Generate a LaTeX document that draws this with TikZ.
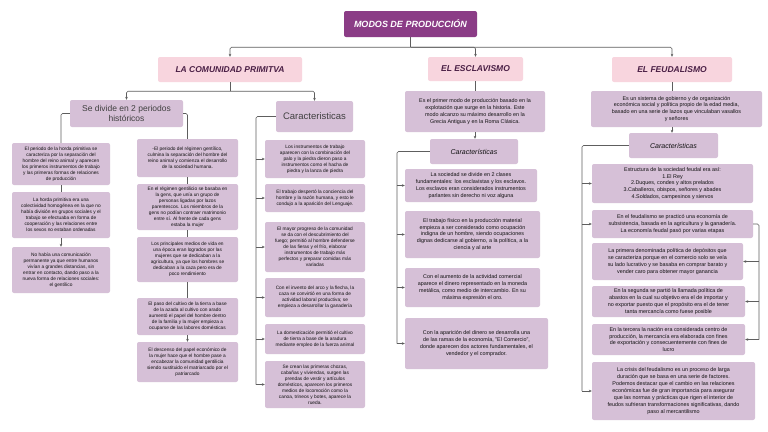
\documentclass[tikz,border=0pt]{standalone}
\usepackage{fontspec}
\setmainfont{Liberation Sans}
\usetikzlibrary{arrows.meta}
\definecolor{mauve}{HTML}{D6C0D7}
\definecolor{pinkb}{HTML}{F8D5DE}
\definecolor{titlep}{HTML}{8B3C86}
\definecolor{lineg}{HTML}{5E5E5E}
\definecolor{headtxt}{HTML}{4A1F45}
\definecolor{bodytxt}{HTML}{101010}
\newcommand\boxat[7]{\node[#6, minimum width={(#4-#2)*1pt}, minimum height={(#5-#3)*1pt}] (#1) at ({(#2+#4)/2},{(#3+#5)/2}) {#7};}
\tikzset{
 mbox/.style={fill=mauve, rounded corners=2pt, inner sep=1pt, align=center, text=bodytxt, font=\fontsize{4.8}{6}\selectfont},
 mboxb/.style={mbox, font=\fontsize{5.4}{6.9}\selectfont},
 pbox/.style={fill=pinkb, rounded corners=2pt, inner sep=1pt, font=\fontsize{8.5}{10}\selectfont\bfseries\itshape, text=headtxt},
 tbox/.style={fill=titlep, rounded corners=2pt, inner sep=1pt, font=\fontsize{9}{11}\selectfont\bfseries\itshape, text=white},
 conn/.style={draw=lineg, line width=0.6pt, rounded corners=1.5pt},
 arr/.style={conn, -{Stealth[length=3pt,width=2.6pt]}},
}
\begin{document}
\begin{tikzpicture}[x=1pt,y=-1pt]
\fill[white] (0,0) rectangle (768,431);
\useasboundingbox (0,0) rectangle (768,431);

% title and level 1
\boxat{title}{344}{11}{477}{37}{tbox}{MODOS DE PRODUCCIÓN}
\boxat{lcom}{158}{57}{302}{82}{pbox}{LA COMUNIDAD PRIMITVA}
\boxat{lesc}{428}{57}{523}{81}{pbox}{EL ESCLAVISMO}
\boxat{lfeu}{612}{57}{732}{82}{pbox}{EL FEUDALISMO}

% level 2 comunidad
\boxat{sediv}{70}{100}{183}{127}{mbox, font=\fontsize{8.5}{10.5}\selectfont, text=black!75}{Se divide en 2 periodos\\históricos}
\boxat{car1}{276}{101}{353}{132}{mbox, font=\fontsize{9.5}{11}\selectfont, text=black!75}{Caracteristicas}

% column 1
\boxat{ca}{12}{143}{110}{185}{mbox}{El periodo de la horda primitiva se\\caracteriza por la separación del\\hombre del reino animal y aparecen\\los primeros instrumentos de trabajo\\y las primeras formas de relaciones\\de producción}
\boxat{cb}{12}{192}{110}{238}{mbox}{La horda primitiva era una\\colectividad homogénea en la que no\\había división en grupos sociales y el\\trabajo se efectuaba en forma de\\cooperación y las relaciones entre\\los sexos no estaban ordenadas}
\boxat{cc}{12}{247}{110}{293}{mbox}{No había una comunicación\\permanente ya que entre humanos\\vivían a grandes distancias, sin\\entrar en contacto, dando paso a la\\nueva forma de relaciones sociales:\\el gentílico}

% column 2
\boxat{da}{137}{139}{238}{177}{mbox}{-El periodo del régimen gentílico,\\culmina la separación del hombre del\\reino animal y comienza el desarrollo\\de la sociedad humana.}
\boxat{db}{137}{184}{238}{230}{mbox}{En el régimen gentilicio se basaba en\\la gens, que unía un grupo de\\personas ligadas por lazos\\parentescos. Los miembros de la\\gens no podían contraer matrimonio\\entre sí. Al frente de cada gens\\estaba la mujer}
\boxat{dc}{137}{237}{238}{282}{mbox}{Los principales medios de vida en\\una época eran logrados por las\\mujeres que se dedicaban a la\\agricultura, ya que los hombres se\\dedicaban a la caza pero era de\\poco rendimiento}
\boxat{dd}{137}{298}{238}{335}{mbox}{El paso del cultivo de la tierra a base\\de la azada al cultivo con arado\\aumentó el papel del hombre dentro\\de la familia y la mujer empieza a\\ocuparse de las labores domésticas}
\boxat{de}{137}{342}{238}{382}{mbox}{El descenso del papel económico de\\la mujer hace que el hombre pase a\\encabezar la comunidad gentilicia\\siendo sustituido el matriarcado por el\\patriarcado}

% column 3
\boxat{ea}{265}{140}{365}{178}{mbox}{Los instrumentos de trabajo\\aparecen con la combinación del\\palo y la piedra dieron paso a\\instrumentos como el hacha de\\piedra y la lanza de piedra}
\boxat{eb}{265}{184}{365}{212}{mbox}{El trabajo despertó la conciencia del\\hombre y la razón humana, y esto le\\condujo a la aparición del Lenguaje.}
\boxat{ec}{265}{222}{365}{272}{mbox}{El mayor progreso de la comunidad\\se da con el descubrimiento del\\fuego; permitió al hombre defenderse\\de las fieras y el frío, elaborar\\instrumentos de trabajo más\\perfectos y preparar comidas más\\variadas}
\boxat{ed}{265}{278}{365}{317}{mbox}{Con el invento del arco y la flecha, la\\caza se convirtió en una forma de\\actividad laboral productiva; se\\empieza a desarrollar la ganadería}
\boxat{ee}{265}{324}{365}{354}{mbox}{La domesticación permitió el cultivo\\de tierra a base de la aradura\\mediante empleo de la fuerza animal}
\boxat{ef}{265}{361}{365}{408}{mbox}{Se crean las primeras chozas,\\cabañas y viviendas, surgen las\\prendas de vestir y artículos\\domésticos, aparecen los primeros\\medios de locomoción como la\\canoa, trineos y botes, aparece la\\rueda.}

% esclavismo
\boxat{escd}{405}{91}{545}{132}{mboxb}{Es el primer modo de producción basado en la\\explotación que surge en la historia. Este\\modo alcanzo su máximo desarrollo en la\\Grecia Antigua y en la Roma Clásica.}
\boxat{escc}{430}{139}{518}{164}{mbox, font=\fontsize{7}{8}\selectfont\itshape}{Características}
\boxat{fa}{405}{169}{537}{202}{mboxb}{La sociedad se divide en 2 clases\\fundamentales: los esclavistas y los esclavos.\\Los esclavos eran considerados instrumentos\\parlantes sin derecho ni voz alguna}
\boxat{fb}{405}{211}{540}{258}{mboxb}{El trabajo físico en la producción material\\empieza a ser considerado como ocupación\\indigna de un hombre, siendo ocupaciones\\dignas dedicarse al gobierno, a la política, a la\\ciencia y al arte}
\boxat{fc}{405}{268}{540}{307}{mboxb}{Con el aumento de la actividad comercial\\aparece el dinero representado en la moneda\\metálica, como medio de intercambio. En su\\máxima expresión el oro.}
\boxat{fd}{405}{318}{548}{369}{mboxb}{Con la aparición del dinero se desarrolla una\\de las ramas de la economía, "El Comercio",\\donde aparecen dos actores fundamentales, el\\vendedor y el comprador.}

% feudalismo
\boxat{feud}{591}{91}{762}{127}{mboxb}{Es un sistema de gobierno y de organización\\económica social y política propio de la edad media,\\basado en una serie de lazos que vinculaban vasallos\\y señores}
\boxat{feuc}{629}{133}{718}{158}{mbox, font=\fontsize{7}{8}\selectfont\itshape}{Características}
\boxat{ga}{592}{164}{753}{203}{mboxb}{Estructura de la sociedad feudal era así:\\1.El Rey\\2.Duques, condes y altos prelados\\3.Caballeros, obispos, señores y abades\\4.Soldados, campesinos y siervos}
\boxat{gb}{592}{210}{753}{238}{mboxb}{En el feudalismo se practicó una economía de\\subsistencia, basada en la agricultura y la ganadería.\\La economía feudal pasó por varias etapas}
\boxat{gc}{592}{243}{743}{280}{mboxb}{La primera denominada política de depósitos que\\se caracteriza porque en el comercio solo se veía\\su lado lucrativo y se basaba en comprar barato y\\vender caro para obtener mayor ganancia}
\boxat{gd}{592}{286}{745}{317}{mboxb}{En la segunda se partió la llamada política de\\abastos en la cual su objetivo era el de importar y\\no exportar puesto que el propósito era el de tener\\tanta mercancía como fuese posible}
\boxat{ge}{592}{324}{745}{355}{mboxb}{En la tercera la nación era considerada centro de\\producción, la mercancía era elaborada con fines\\de exportación y consecuentemente con fines de\\lucro}
\boxat{gf}{592}{362}{755}{420}{mboxb}{La crisis del feudalismo es un proceso de larga\\duración que se basa en una serie de factores.\\Podemos destacar que el cambio en las relaciones\\económicas fue de gran importancia para asegurar\\que las normas y prácticas que rigen el interior de\\feudos sufrieran transformaciones significativas, dando\\paso al mercantilismo}

% connectors: title
\draw[conn] (title.south) -- ++(0,10) coordinate (tj);
\draw[arr] (tj) -| (lcom.north);
\draw[arr] (tj) -| (lesc.north);
\draw[arr] (tj) -| (lfeu.north);

% comunidad
\draw[conn] (lcom.south) -- ++(0,9) coordinate (cj);
\draw[arr] (cj) -| (sediv.north);
\draw[arr] (cj) -| (car1.north);
\draw[conn] (sediv.west) -| (ca.north);
\draw[conn] (ca.south) -- (cb.north);
\draw[arr] (cb.south) -- (cc.north);
\draw[conn] (sediv.east) -| (da.north);
\draw[conn] (da.south) -- (db.north);
\draw[conn] (db.south) -- (dc.north);
\draw[conn] (dc.south) -- (dd.north);
\draw[arr] (dd.south) -- (de.north);
\coordinate (v3) at (256,116);
\draw[conn] (car1.west) -- (car1.west -| v3) -- (v3 |- ef.west);
\foreach \b in {ea,eb,ec,ed,ee,ef} \draw[arr] (v3 |- \b.west) -- (\b.west);

% esclavismo
\draw[conn] (lesc.south) -- (lesc.south |- escd.north);
\draw[arr] (escd.south) -- (escd.south |- escc.north);
\coordinate (v4) at (397,152);
\draw[conn] (escc.west) -- (escc.west -| v4) -- (v4 |- fd.west);
\foreach \b in {fa,fb,fc,fd} \draw[arr] (v4 |- \b.west) -- (\b.west);

% feudalismo
\draw[conn] (lfeu.south) -- (lfeu.south |- feud.north);
\draw[arr] (feud.south -| lfeu.south) -- (lfeu.south |- feuc.north);
\coordinate (v5) at (582,147);
\draw[conn] (feuc.west) -- (feuc.west -| v5) -- (v5 |- gf.west);
\foreach \b in {ga,gb,gf} \draw[arr] (v5 |- \b.west) -- (\b.west);
\coordinate (v6) at (759,224);
\draw[conn] (gb.east) -- (gb.east -| v6) -- (v6 |- ge.east);
\foreach \b in {gc,gd,ge} \draw[arr] (v6 |- \b.east) -- (\b.east);
\end{tikzpicture}
\end{document}
